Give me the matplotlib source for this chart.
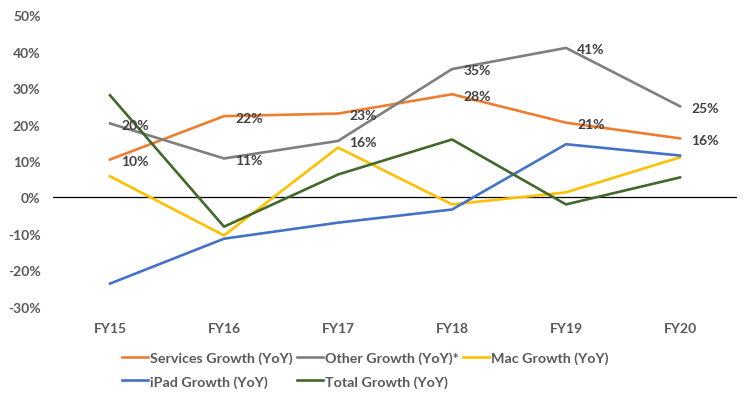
import numpy as np
import matplotlib
matplotlib.use("Agg")
import matplotlib.pyplot as plt
from matplotlib.ticker import FuncFormatter

plt.rcParams['font.family'] = ['Lato', 'DejaVu Sans']

# 資料 (YoY 成長率, %)
years = ["FY15", "FY16", "FY17", "FY18", "FY19", "FY20"]
services = [10.4, 22.3, 23.0, 28.3, 20.5, 16.2]
other = [20.3, 10.7, 15.5, 35.2, 41.0, 25.0]
mac = [5.8, -10.4, 13.7, -1.9, 1.4, 11.0]
ipad = [-23.6, -11.3, -6.9, -3.3, 14.6, 11.5]
total = [28.0, -8.0, 6.3, 15.9, -1.9, 5.5]

services_labels = ["10%", "22%", "23%", "28%", "21%", "16%"]
other_labels = ["20%", "11%", "16%", "35%", "41%", "25%"]

text_c = '#595959'
label_c = '#404040'

fig = plt.figure(figsize=(7.5, 4.02), dpi=100)
ax = fig.add_axes([0.0707, 0.234, 0.912, 0.726])

x = np.arange(len(years))
lw = 1.9
l_srv, = ax.plot(x, services, color='#ED7D31', lw=lw, label='Services Growth (YoY)')
l_oth, = ax.plot(x, other, color='#7F7F7F', lw=lw, label='Other Growth (YoY)*')
l_mac, = ax.plot(x, mac, color='#FFC000', lw=lw, label='Mac Growth (YoY)')
l_ipd, = ax.plot(x, ipad, color='#4472C4', lw=lw, label='iPad Growth (YoY)')
l_tot, = ax.plot(x, total, color='#43682B', lw=lw, label='Total Growth (YoY)')

# 資料標籤
for xi, v, s in zip(x, services, services_labels):
    ax.annotate(s, (xi, v), xytext=(8, -1), textcoords='offset points',
                ha='left', va='center', fontsize=10, fontweight='bold', color=label_c)
for xi, v, s in zip(x, other, other_labels):
    ax.annotate(s, (xi, v), xytext=(8, -1), textcoords='offset points',
                ha='left', va='center', fontsize=10, fontweight='bold', color=label_c)

ax.axhline(0, color='black', lw=0.9, zorder=0)

ax.set_xlim(-0.5, len(years) - 0.5)
ax.set_ylim(-30, 50)
ax.set_yticks(np.arange(-30, 51, 10))
ax.yaxis.set_major_formatter(FuncFormatter(lambda v, p: f"{v:.0f}%"))
ax.set_xticks(x)
ax.set_xticklabels(years)
for sp in ax.spines.values():
    sp.set_visible(False)
ax.tick_params(axis='both', length=0, labelsize=10, labelcolor=text_c)
ax.tick_params(axis='y', pad=9)
ax.tick_params(axis='x', pad=11)
for t in ax.get_xticklabels() + ax.get_yticklabels():
    t.set_fontweight('bold')

handles = [l_srv, l_ipd, l_oth, l_tot, l_mac]
leg = fig.legend(handles=handles, labels=[h.get_label() for h in handles],
                 ncol=3, loc='center', bbox_to_anchor=(0.487, 0.078),
                 frameon=False, fontsize=10.3, handlelength=1.8, handletextpad=0.15,
                 columnspacing=0.3, labelspacing=0.74)
for t in leg.get_texts():
    t.set_color(text_c)
    t.set_fontweight('bold')

fig.savefig('out.png', dpi=100)
